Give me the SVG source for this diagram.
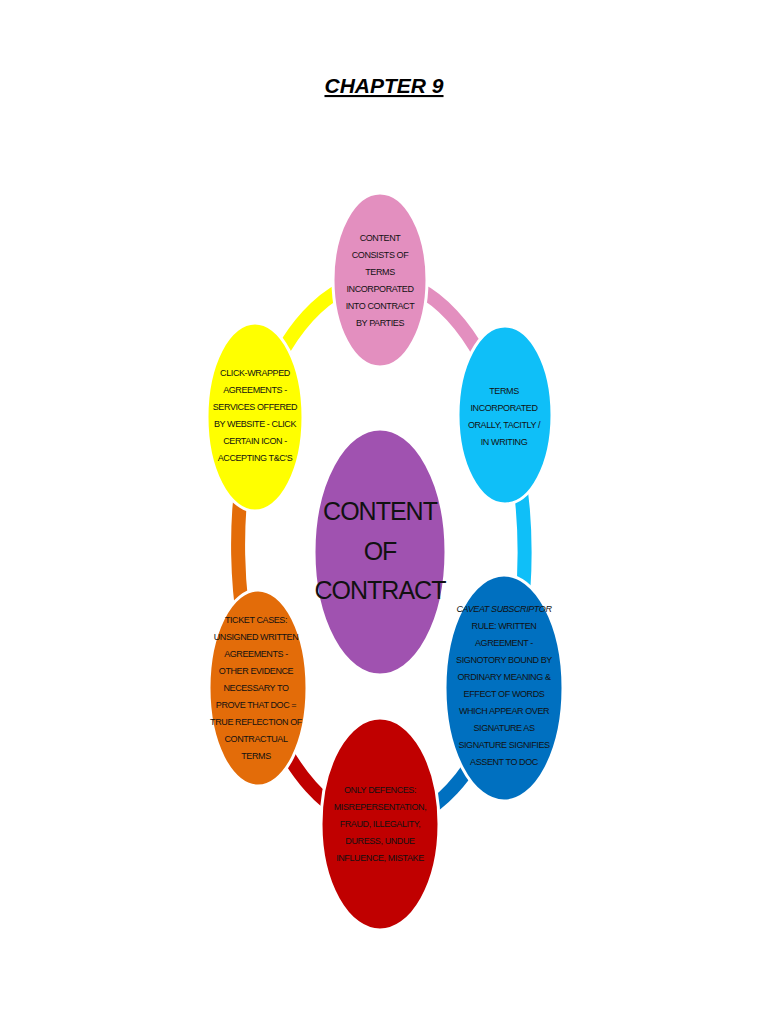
<svg xmlns="http://www.w3.org/2000/svg" width="768" height="1024" viewBox="0 0 768 1024">
<style>
.n{stroke:#fff;stroke-width:3}
.t{font-family:"Liberation Sans",Arial,sans-serif;font-size:9px;fill:#111;text-anchor:middle;letter-spacing:-0.4px}
.ring{fill:none;stroke-width:14}
</style>
<rect width="768" height="1024" fill="#fff"/>
<text x="384" y="93" font-family="Liberation Sans,Arial,sans-serif" font-size="21" font-weight="bold" font-style="italic" text-anchor="middle" text-decoration="underline" fill="#000">CHAPTER 9</text>
<g id="connectors">
<path class="ring" stroke="#e38fbf" d="M380 280 A143 272 0 0 1 505 415"/>
<path class="ring" stroke="#0fbff8" d="M505 415 A143 272 0 0 1 505 690"/>
<path class="ring" stroke="#0070c0" d="M505 690 A143 272 0 0 1 380 824"/>
<path class="ring" stroke="#c00000" d="M380 824 A143 272 0 0 1 260 690"/>
<path class="ring" stroke="#e36c09" d="M260 690 A143 272 0 0 1 255 417"/>
<path class="ring" stroke="#ffff00" d="M255 417 A143 272 0 0 1 380 280"/>
</g>
<g id="center"><ellipse class="n" cx="380" cy="552" rx="66" ry="123" fill="#a052b0"/>
<text x="380" y="520" font-family="Liberation Sans,Arial,sans-serif" font-size="25" text-anchor="middle" fill="#111" letter-spacing="-1">CONTENT</text>
<text x="380" y="560" font-family="Liberation Sans,Arial,sans-serif" font-size="25" text-anchor="middle" fill="#111" letter-spacing="-1">OF</text>
<text x="380" y="599" font-family="Liberation Sans,Arial,sans-serif" font-size="25" text-anchor="middle" fill="#111" letter-spacing="-1">CONTRACT</text></g>
<g id="top"><ellipse class="n" cx="380" cy="280" rx="47" ry="87" fill="#e38fbf"/>
<text class="t" x="380" y="241"><tspan x="380">CONTENT</tspan><tspan x="380" dy="17">CONSISTS OF</tspan><tspan x="380" dy="17">TERMS</tspan><tspan x="380" dy="17">INCORPORATED</tspan><tspan x="380" dy="17">INTO CONTRACT</tspan><tspan x="380" dy="17">BY PARTIES</tspan></text></g>
<g id="cyan"><ellipse class="n" cx="505" cy="415" rx="47" ry="89" fill="#0fbff8"/>
<text class="t" x="504" y="394"><tspan x="504">TERMS</tspan><tspan x="504" dy="17">INCORPORATED</tspan><tspan x="504" dy="17">ORALLY, TACITLY /</tspan><tspan x="504" dy="17">IN WRITING</tspan></text></g>
<g id="blue"><ellipse class="n" cx="504" cy="688" rx="59" ry="113" fill="#0070c0"/>
<text class="t" x="504" y="612"><tspan x="504" font-style="italic">CAVEAT SUBSCRIPTOR</tspan><tspan x="504" dy="17">RULE: WRITTEN</tspan><tspan x="504" dy="17">AGREEMENT -</tspan><tspan x="504" dy="17">SIGNOTORY BOUND BY</tspan><tspan x="504" dy="17">ORDINARY MEANING &amp;</tspan><tspan x="504" dy="17">EFFECT OF WORDS</tspan><tspan x="504" dy="17">WHICH APPEAR OVER</tspan><tspan x="504" dy="17">SIGNATURE AS</tspan><tspan x="504" dy="17">SIGNATURE SIGNIFIES</tspan><tspan x="504" dy="17">ASSENT TO DOC</tspan></text></g>
<g id="red"><ellipse class="n" cx="380" cy="824" rx="59" ry="106" fill="#c00000"/>
<text class="t" x="380" y="793"><tspan x="380">ONLY DEFENCES:</tspan><tspan x="380" dy="17">MISREPERSENTATION,</tspan><tspan x="380" dy="17">FRAUD, ILLEGALITY,</tspan><tspan x="380" dy="17">DURESS, UNDUE</tspan><tspan x="380" dy="17">INFLUENCE, MISTAKE</tspan></text></g>
<g id="orange"><ellipse class="n" cx="258" cy="688" rx="49" ry="98" fill="#e36c09"/>
<text class="t" x="256" y="623"><tspan x="256">TICKET CASES:</tspan><tspan x="256" dy="17">UNSIGNED WRITTEN</tspan><tspan x="256" dy="17">AGREEMENTS -</tspan><tspan x="256" dy="17">OTHER EVIDENCE</tspan><tspan x="256" dy="17">NECESSARY TO</tspan><tspan x="256" dy="17">PROVE THAT DOC =</tspan><tspan x="256" dy="17">TRUE REFLECTION OF</tspan><tspan x="256" dy="17">CONTRACTUAL</tspan><tspan x="256" dy="17">TERMS</tspan></text></g>
<g id="yellow"><ellipse class="n" cx="255" cy="417" rx="48" ry="94" fill="#ffff00"/>
<text class="t" x="255" y="376"><tspan x="255">CLICK-WRAPPED</tspan><tspan x="255" dy="17">AGREEMENTS -</tspan><tspan x="255" dy="17">SERVICES OFFERED</tspan><tspan x="255" dy="17">BY WEBSITE - CLICK</tspan><tspan x="255" dy="17">CERTAIN ICON -</tspan><tspan x="255" dy="17">ACCEPTING T&amp;C'S</tspan></text></g>
</svg>
